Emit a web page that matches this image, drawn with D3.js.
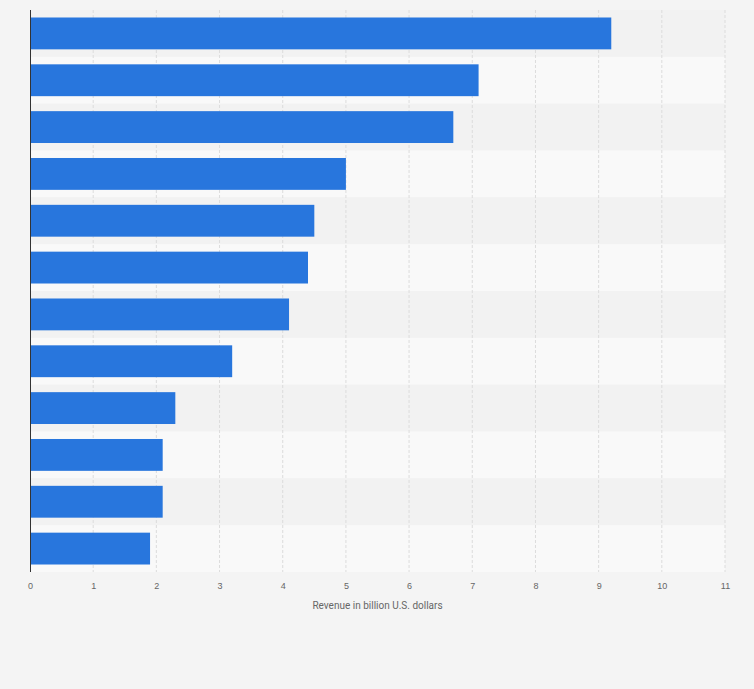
<!DOCTYPE html>
<html><head><meta charset="utf-8">
<script src="https://cdn.jsdelivr.net/npm/d3@7"></script>
<style>body{margin:0;background:#f4f4f4;font-family:Roboto,"Open Sans",sans-serif}</style>
</head><body><svg id="c" width="754" height="689"></svg>
<script>
const categories = ["A","B","C","D","E","F","G","H","I","J","K","L"];
const values = [9.2, 7.1, 6.7, 5.0, 4.5, 4.4, 4.1, 3.2, 2.3, 2.1, 2.1, 1.9];
const tickValues = [0,1,2,3,4,5,6,7,8,9,10,11];
const axisTitle = "Revenue in billion U.S. dollars";

const svg = d3.select("#c");
const m = {l:30, r:29, t:10, b:117};
const W = 754 - m.l - m.r, H = 689 - m.t - m.b;
const g = svg.append("g").attr("transform",`translate(${m.l},${m.t})`);
const x = d3.scaleLinear().domain([0,11]).range([0,W]);
const y = d3.scaleBand().domain(categories).range([0,H]).paddingInner(0).paddingOuter(0);

g.selectAll("rect.band").data(categories).join("rect")
  .attr("x",0).attr("y",d=>y(d)).attr("width",W).attr("height",y.bandwidth())
  .attr("fill",(d,i)=>i%2?"#f9f9f9":"#f2f2f2");

g.selectAll("line.grid").data(tickValues.slice(1)).join("line")
  .attr("x1",d=>x(d)).attr("x2",d=>x(d)).attr("y1",0).attr("y2",H)
  .attr("stroke","#dcdcdc").attr("stroke-dasharray","3,2");

const inset = y.bandwidth()*0.16;
g.selectAll("rect.bar").data(values).join("rect")
  .attr("x",0).attr("y",(d,i)=>y(categories[i])+inset)
  .attr("width",d=>x(d)).attr("height",y.bandwidth()-2*inset)
  .attr("fill","#2876dd");

g.append("line").attr("x1",0.5).attr("x2",0.5).attr("y1",0).attr("y2",H).attr("stroke","#333");

const ax = g.append("g").attr("transform",`translate(0,${H})`)
  .call(d3.axisBottom(x).tickValues(tickValues).tickSize(0).tickPadding(11).tickFormat(d3.format("d")));
ax.select(".domain").remove();
ax.selectAll("text").attr("fill","#666").attr("font-size",9);

g.append("text").attr("x",W/2).attr("y",H+37).attr("text-anchor","middle")
  .attr("fill","#666").attr("font-size",10).text(axisTitle);
</script></body></html>
